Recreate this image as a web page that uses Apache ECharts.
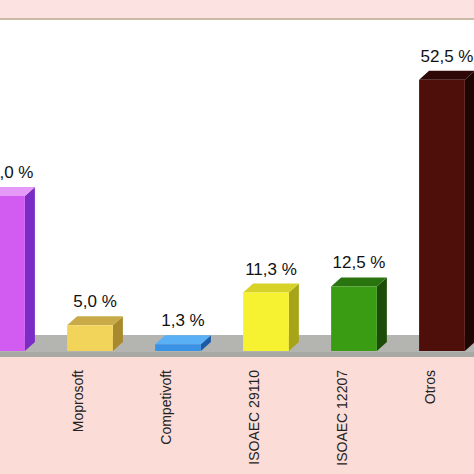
<!DOCTYPE html>
<html><head><meta charset="utf-8">
<script src="https://cdn.jsdelivr.net/npm/echarts@6/dist/echarts.min.js"></script>
<style>html,body{margin:0;padding:0;background:#fff}#c{width:474px;height:474px}</style>
</head><body><div id="c"></div>
<script>
const categories = ['Otro modelo', 'Moprosoft', 'Competivoft', 'ISOAEC 29110', 'ISOAEC 12207', 'Otros'];
const values = [30.0, 5.0, 1.3, 11.3, 12.5, 52.5];
const frontColors = ['#d25cf2', '#f2d45a', '#3a92e6', '#f6f232', '#3a9c12', '#4e0e0a'];
const sideColors = ['#7a2cc4', '#a88a2c', '#1c5aa8', '#a8a418', '#1c4c08', '#1e0604'];
const topColors = ['#e69af8', '#c8aa48', '#5ab0f4', '#d6d228', '#2a7410', '#2e0806'];

const chart = echarts.init(document.getElementById('c'), null, { renderer: 'svg' });
const D = { x: 10, y: -9 };

chart.setOption({
  animation: false,
  grid: { left: 0, right: 0, top: 41, bottom: 123 },
  xAxis: { type: 'value', min: -0.023, max: 5.364, show: false },
  yAxis: { type: 'value', min: 0, max: 60, show: false },
  graphic: [
    { type: 'rect', shape: { x: 0, y: 0, width: 474, height: 18 }, style: { fill: '#fde2e2' }, z: -10 },
    { type: 'rect', shape: { x: 0, y: 18, width: 474, height: 2 }, style: { fill: '#cbbba6' }, z: -10 },
    { type: 'polygon', shape: { points: [[0, 343], [10, 335], [474, 335], [474, 352], [0, 352]] }, style: { fill: '#b4b4b0' }, z: -10 },
    { type: 'rect', shape: { x: 0, y: 352, width: 474, height: 5 }, style: { fill: '#a8a8a4' }, z: -10 },
    { type: 'rect', shape: { x: 0, y: 357, width: 474, height: 117 }, style: { fill: '#fbdcd6' }, z: -10 }
  ],
  series: [{
    type: 'custom',
    clip: false,
    data: values.map((v, i) => [i, v]),
    renderItem: function (params, api) {
      const i = api.value(0), v = api.value(1);
      const base = api.coord([i, 0]);
      const top = api.coord([i, v]);
      const w = api.size([1, 0])[0] * 0.52;
      const x0 = base[0] - w / 2, x1 = x0 + w;
      const yb = base[1], yt = top[1];
      return {
        type: 'group',
        children: [
          { type: 'polygon', shape: { points: [[x1, yt], [x1 + D.x, yt + D.y], [x1 + D.x, yb + D.y], [x1, yb]] }, style: { fill: sideColors[i] } },
          { type: 'polygon', shape: { points: [[x0, yt], [x0 + D.x, yt + D.y], [x1 + D.x, yt + D.y], [x1, yt]] }, style: { fill: topColors[i] } },
          { type: 'rect', shape: { x: x0, y: yt, width: w, height: yb - yt }, style: { fill: frontColors[i] } },
          { type: 'text', x: (x0 + x1 + D.x) / 2, y: yt + D.y - 6,
            style: { text: v.toFixed(1).replace('.', ',') + ' %', align: 'center', verticalAlign: 'bottom', fontSize: 17, fill: '#111', fontFamily: 'Liberation Sans' } },
          { type: 'text', x: base[0] - 12, y: 370, rotation: Math.PI / 2,
            style: { text: categories[i], align: 'right', verticalAlign: 'middle', fontSize: 14, fill: '#222', fontFamily: 'Liberation Sans' } }
        ]
      };
    }
  }]
});
</script></body></html>
